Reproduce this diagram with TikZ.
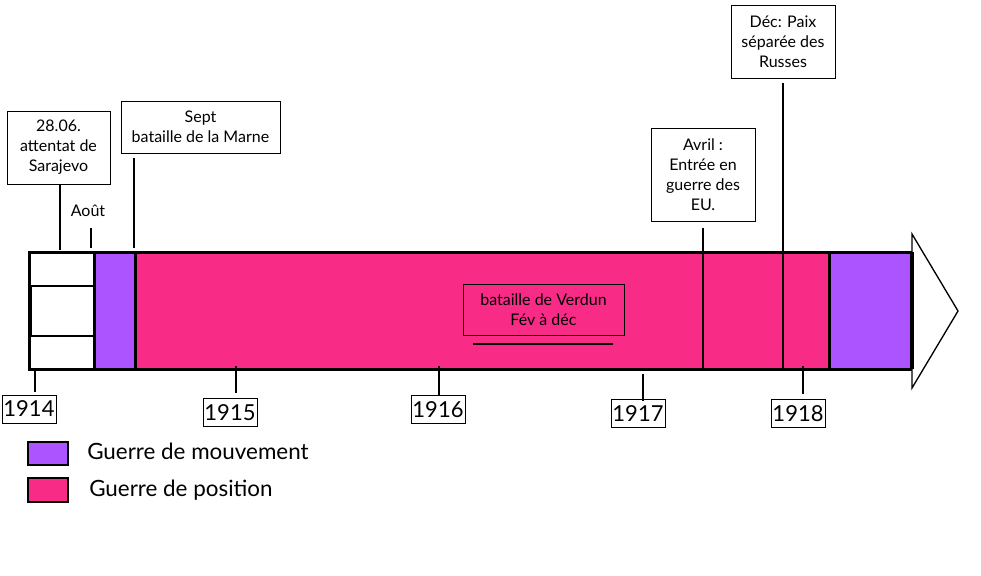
\documentclass[tikz,border=0pt]{standalone}
\usepackage{fontspec}
\setmainfont{Lato}
\definecolor{mouvement}{RGB}{172,84,255}
\definecolor{position}{RGB}{248,44,135}
\tikzset{
  evbox/.style = {draw, line width=0.75pt, fill=white, align=center, inner sep=0pt,
                  font=\fontsize{12}{15}\selectfont},
  yearbox/.style = {draw, line width=0.75pt, fill=white, inner sep=0pt,
                    minimum width=40.5pt, minimum height=21pt,
                    font=\fontsize{16.5}{20}\selectfont},
  keybox/.style = {draw, line width=1.5pt, inner sep=0pt, minimum width=30pt, minimum height=17.5pt},
  keytext/.style = {anchor=west, inner sep=0pt, font=\fontsize{16.8}{20}\selectfont},
  tick/.style = {line width=1.5pt}
}
\begin{document}
\begin{tikzpicture}[x=0.75pt, y=-0.75pt]
    \useasboundingbox (0,0) rectangle (981,575);

    % Bar
    \fill[white] (29,252) rectangle (94,369);
    \fill[mouvement] (94,252) rectangle (135,369);
    \fill[position] (135,252) rectangle (829,369);
    \fill[mouvement] (829,252) rectangle (912,369);
    \draw[line width=1.5pt] (31,286) rectangle (94,336);
    \draw[line width=2.25pt] (94,252) -- (94,369);
    \draw[line width=2.25pt] (135,252) -- (135,369);
    \draw[line width=2.25pt] (829,252) -- (829,369);
    \draw[line width=2.25pt] (29,252) rectangle (912,369);

    % Arrow head
    \draw[line width=1pt, fill=white] (912,234) -- (958,311) -- (912,388) -- cycle;
    \draw[line width=3pt] (912,252) -- (912,369);

    % Events
    \node[evbox, minimum width=77.25pt, minimum height=54.75pt] (sara) at (58.5,147.5)
        {28.06.\\attentat de\\Sarajevo};
    \node[evbox, minimum width=119.25pt, minimum height=39pt] (marne) at (200.5,127)
        {Sept\\bataille de la Marne};
    \node[evbox, minimum width=78pt, minimum height=69.75pt] (avril) at (703,174.5)
        {Avril :\\Entrée en\\guerre des\\EU.};
    \node[evbox, minimum width=78pt, minimum height=54.75pt] (dec) at (783,41.5)
        {Déc:\,\,Paix\\séparée des\\Russes};
    \node[evbox, fill=none, minimum width=120.75pt, minimum height=38.25pt] (verdun) at (543.5,309.5)
        {bataille de Verdun\\Fév à déc};
    \node[font=\fontsize{12}{14}\selectfont, inner sep=0pt] (aout) at (88,211) {Août};

    \coordinate (p-sara) at (60,250);
    \coordinate (p-aout) at (91,248);
    \coordinate (p-marne) at (134,248);
    \coordinate (p-avril) at (703,369);
    \coordinate (p-dec) at (783,369);

    \draw[tick] (sara.south -| p-sara) -- (p-sara);
    \draw[tick] (91,228) -- (p-aout);
    \draw[tick, shorten <=3pt] (marne.south -| p-marne) -- (p-marne);
    \draw[tick, shorten <=4.5pt] (avril.south) -- (p-avril);
    \draw[tick, shorten <=3.5pt] (dec.south) -- (p-dec);
    \draw[line width=1.5pt] (473,344) -- (613,344);

    % Years
    \foreach \yr/\cx/\cy/\tx/\ty/\by in {1914/29/409/35/369/392, 1915/230/412.5/236/366/393,
                                         1916/438/409.5/439/366/395, 1917/638/413.5/643/374/401,
                                         1918/798/413.5/803/366/394} {
      \node[yearbox] (y\yr) at (\cx,\cy) {\yr};
      \draw[tick] (\tx,\ty) -- (\tx,\by);
    }

    % Legend
    \node[keybox, fill=mouvement] (k-mouv) at (47.5,453.5) {};
    \node[keybox, fill=position] (k-pos) at (47.5,490) {};
    \node[keytext] (t-mouv) at (87,451) {Guerre de mouvement};
    \node[keytext] (t-pos) at (89,490) {Guerre de position};
\end{tikzpicture}
\end{document}
